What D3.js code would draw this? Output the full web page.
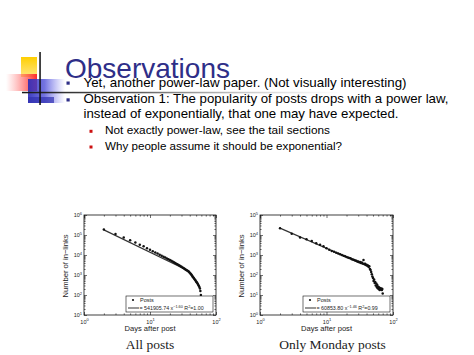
<!DOCTYPE html>
<html><head><meta charset="utf-8">
<script src="https://cdn.jsdelivr.net/npm/d3@7"></script>
<style>body{margin:0;background:#fff;}svg{display:block}</style>
</head><body>
<script>
// ---------- data ----------
const titleText = "Observations";
const bulletTexts = [
  "Yet, another power-law paper. (Not visually interesting)",
  "Observation 1: The popularity of posts drops with a power law,",
  "instead of exponentially, that one may have expected."
];
const subBulletTexts = [
  "Not exactly power-law, see the tail sections",
  "Why people assume it should be exponential?"
];
const xTickExps = [0, 1, 2];
const leftYTickExps = [1, 2, 3, 4, 5, 6];
const rightYTickExps = [0, 1, 2, 3, 4, 5];

const leftDays = [2,3,4,5,6,7,8,9,10,11,12,13,14,15,16,17,18,19,20,21,22,23,24,25,26,27,28,29,30,31,32,33,34,35,36,37,38,39,40,41,42,43,44,45,46,47,48,49,50,51,52,53,54,55,56,57,58,59];
const leftInlinks = [190000,112000,75000,55000,42000,33000,27000,22000,18500,15500,13500,11800,10300,9200,8200,7400,6700,6100,5600,5100,4700,4350,4000,3700,3450,3200,2950,2750,2550,2400,2250,2100,1950,1850,1750,1650,1520,1400,1300,1200,1080,960,860,780,700,640,580,530,480,440,400,350,320,280,250,210,160,100];
const leftFitDays = [2, 40];
const leftFitInlinks = [180000, 1500];

const rightDays = [2,3,4,5,6,7,8,9,10,11,12,13,14,15,16,17,18,19,20,21,22,23,24,25,26,27,28,29,30,31,32,33,34,35,36,37,38,39,40,41,42,43,44,45,46,47,48,49,50,51,52,53,54,55,56,57,58,59,60,61,62,63,64,65,66,67,68,69,70];
const rightInlinks = [21500,11500,7500,6200,5000,3900,3300,2700,2200,1850,1600,1450,1300,1200,1080,1000,920,860,800,760,700,680,620,600,560,530,520,470,480,430,450,400,420,380,560,350,360,320,330,290,300,250,270,200,180,140,110,85,70,50,60,40,45,30,38,25,32,22,26,20,24,18,22,20,19,21,18,20,12];
const rightFitDays = [2, 40];
const rightFitInlinks = [22000, 290];

const seriesName = "Posts";
const leftFitLabel = ["= 541905.74 x", "\u22121.60", " R", "2", "=1.00"];
const rightFitLabel = ["= 60853.80 x", "\u22121.46", " R", "2", "=0.99"];
const yAxisTitle = "Number of in\u2212links";
const xAxisTitle = "Days after post";
const captions = ["All posts", "Only Monday posts"];

// ---------- drawing ----------
const W = 474, H = 355;
const svg = d3.select("body").append("svg").attr("width", W).attr("height", H);
const defs = svg.append("defs");
function grad(id, stops, x2, y2) {
  const g = defs.append("linearGradient").attr("id", id)
    .attr("x1", "0%").attr("y1", "0%").attr("x2", x2).attr("y2", y2);
  stops.forEach(s => g.append("stop").attr("offset", s[0]).attr("stop-color", s[1]).attr("stop-opacity", s[2]));
}
grad("gY", [["0%", "#ffcf00", 1], ["100%", "#ffe066", 0.85]], "0%", "100%");
grad("gR", [["0%", "#ff7070", 0], ["100%", "#ff2a2a", 1]], "100%", "0%");
grad("gB", [["0%", "#2828b8", 1], ["45%", "#4a4ad8", 0.85], ["100%", "#7070f0", 0]], "100%", "0%");
grad("gL", [["0%", "#1a1a1a", 1], ["35%", "#444", 0.9], ["100%", "#aaa", 0]], "100%", "0%");

svg.append("rect").attr("x", 21).attr("y", 57).attr("width", 16).attr("height", 20).attr("fill", "url(#gY)");
svg.append("rect").attr("x", 6).attr("y", 74).attr("width", 31).attr("height", 17).attr("fill", "url(#gR)");
svg.append("rect").attr("x", 28).attr("y", 79).attr("width", 37).attr("height", 24).attr("fill", "url(#gB)").attr("opacity", 0.9);
svg.append("rect").attr("x", 28).attr("y", 97).attr("width", 26).attr("height", 6).attr("fill", "#3030b0").attr("opacity", 0.7);
svg.append("rect").attr("x", 22).attr("y", 91.8).attr("width", 320).attr("height", 1.5).attr("fill", "url(#gL)");
svg.append("rect").attr("x", 39.3).attr("y", 52).attr("width", 1.5).attr("height", 53).attr("fill", "#111");

// title
svg.append("text").attr("x", 65).attr("y", 77.5)
  .attr("font-family", "Liberation Sans, Arial, sans-serif").attr("font-size", 28.5)
  .attr("fill", "#2e2e88").attr("textLength", 165).attr("lengthAdjust", "spacingAndGlyphs")
  .text(titleText);

// bullets
const bY = [86.5, 103.3, 118.3];
const bW = [323, 365, 315];
bulletTexts.forEach((t, i) => {
  svg.append("text").attr("x", 83.5).attr("y", bY[i])
    .attr("font-family", "Liberation Sans, Arial, sans-serif").attr("font-size", 13.5)
    .attr("fill", "#000").attr("textLength", bW[i]).attr("lengthAdjust", "spacingAndGlyphs").text(t);
});
[0, 1].forEach(i => svg.append("rect").attr("x", 66.5).attr("y", bY[i] - 5).attr("width", 3.2).attr("height", 3.2).attr("fill", "#2e2e88"));
const sY = [134.3, 150];
const sW = [225, 237];
subBulletTexts.forEach((t, i) => {
  svg.append("text").attr("x", 105).attr("y", sY[i])
    .attr("font-family", "Liberation Sans, Arial, sans-serif").attr("font-size", 11.5)
    .attr("fill", "#000").attr("textLength", sW[i]).attr("lengthAdjust", "spacingAndGlyphs").text(t);
  svg.append("rect").attr("x", 89.5).attr("y", sY[i] - 4.5).attr("width", 3).attr("height", 3).attr("fill", "#cc1111");
});

function minorTicks(dom) {
  const out = [];
  const a = Math.round(Math.log10(dom[0])), b = Math.round(Math.log10(dom[1]));
  for (let e = a; e < b; e++) for (let m = 2; m < 10; m++) out.push(m * Math.pow(10, e));
  return out;
}
function supLabel(sel, d, anchor) {
  const t = d3.select(sel);
  t.text(null).attr("text-anchor", anchor).attr("fill", "#222")
    .attr("font-family", "Liberation Sans, Arial, sans-serif").attr("font-size", 5.5);
  t.append("tspan").text("10");
  t.append("tspan").attr("dy", -2.5).attr("font-size", 4).text(Math.round(Math.log10(d)));
}

function panel(cfg) {
  const { left, right, top, bottom, yExps, days, vals, fitDays, fitVals, fitLabel, caption, capX } = cfg;
  const xDom = [Math.pow(10, xTickExps[0]), Math.pow(10, xTickExps[xTickExps.length - 1])];
  const yDom = [Math.pow(10, yExps[0]), Math.pow(10, yExps[yExps.length - 1])];
  const x = d3.scaleLog().domain(xDom).range([left, right]);
  const y = d3.scaleLog().domain(yDom).range([bottom, top]);
  const g = svg.append("g");
  const xMaj = xTickExps.map(e => Math.pow(10, e));
  const yMaj = yExps.map(e => Math.pow(10, e));
  const mk = (gen, sc, vals, size, tx, ty) => g.append("g").attr("transform", `translate(${tx},${ty})`)
    .call(gen(sc).tickValues(vals).tickSize(size).tickSizeOuter(0).tickFormat(() => ""))
    .call(s => { s.select(".domain").remove(); s.selectAll("line").attr("stroke", "#111").attr("stroke-width", 0.6); });
  // minor
  mk(d3.axisBottom, x, minorTicks(xDom), -1.6, 0, bottom);
  mk(d3.axisTop, x, minorTicks(xDom), -1.6, 0, top);
  mk(d3.axisLeft, y, minorTicks(yDom), -1.6, left, 0);
  mk(d3.axisRight, y, minorTicks(yDom), -1.6, right, 0);
  // major (unlabeled side)
  mk(d3.axisTop, x, xMaj, -3, 0, top);
  mk(d3.axisRight, y, yMaj, -3, right, 0);
  // labeled major
  g.append("g").attr("transform", `translate(0,${bottom})`)
    .call(d3.axisBottom(x).tickValues(xMaj).tickSize(-3).tickSizeOuter(0).tickPadding(5).tickFormat(d => String(d)))
    .call(s => { s.select(".domain").remove(); s.selectAll("line").attr("stroke", "#111").attr("stroke-width", 0.6);
      s.selectAll("text").each(function (d) { supLabel(this, d, "middle"); }); });
  g.append("g").attr("transform", `translate(${left},0)`)
    .call(d3.axisLeft(y).tickValues(yMaj).tickSize(-3).tickSizeOuter(0).tickPadding(2).tickFormat(d => String(d)))
    .call(s => { s.select(".domain").remove(); s.selectAll("line").attr("stroke", "#111").attr("stroke-width", 0.6);
      s.selectAll("text").each(function (d) { supLabel(this, d, "end"); }); });
  // frame
  g.append("rect").attr("x", left).attr("y", top).attr("width", right - left).attr("height", bottom - top)
    .attr("fill", "none").attr("stroke", "#111").attr("stroke-width", 0.8);
  // fit line
  const fit = fitDays.map((d, i) => [d, fitVals[i]]);
  g.append("path").attr("d", d3.line().x(d => x(d[0])).y(d => y(d[1]))(fit))
    .attr("fill", "none").attr("stroke", "#333").attr("stroke-width", 1.2);
  // points
  const pts = days.map((d, i) => [d, vals[i]]);
  g.selectAll("circle.pt").data(pts).join("circle").attr("class", "pt")
    .attr("cx", d => x(d[0])).attr("cy", d => y(d[1])).attr("r", 1.25).attr("fill", "#111");
  // legend
  const lw = 87, lh = 16, lx = right - 3 - lw, ly = bottom - 3 - lh;
  g.append("rect").attr("x", lx).attr("y", ly).attr("width", lw).attr("height", lh)
    .attr("fill", "#fff").attr("stroke", "#111").attr("stroke-width", 0.6);
  g.append("circle").attr("cx", lx + 7).attr("cy", ly + 4).attr("r", 1.1).attr("fill", "#111");
  g.append("text").attr("x", lx + 14).attr("y", ly + 6).attr("font-family", "Liberation Sans, Arial, sans-serif")
    .attr("font-size", 5.5).attr("fill", "#222").text(seriesName);
  g.append("line").attr("x1", lx + 2).attr("x2", lx + 13).attr("y1", ly + 12).attr("y2", ly + 12)
    .attr("stroke", "#444").attr("stroke-width", 1.1);
  const ft = g.append("text").attr("x", lx + 13.5).attr("y", ly + 14).attr("font-family", "Liberation Sans, Arial, sans-serif")
    .attr("font-size", 5.3).attr("fill", "#222");
  ft.append("tspan").text(fitLabel[0]);
  ft.append("tspan").attr("dy", -2.3).attr("font-size", 3.8).text(fitLabel[1]);
  ft.append("tspan").attr("dy", 2.3).text(fitLabel[2]);
  ft.append("tspan").attr("dy", -2.3).attr("font-size", 3.8).text(fitLabel[3]);
  ft.append("tspan").attr("dy", 2.3).text(fitLabel[4]);
  // axis titles
  g.append("text").attr("transform", `translate(${left - 16},${(top + bottom) / 2 + 1}) rotate(-90)`)
    .attr("text-anchor", "middle").attr("font-family", "Liberation Sans, Arial, sans-serif")
    .attr("font-size", 7.6).attr("fill", "#222").text(yAxisTitle);
  g.append("text").attr("x", (left + right) / 2 + 0).attr("y", bottom + 15.5)
    .attr("text-anchor", "middle").attr("font-family", "Liberation Sans, Arial, sans-serif")
    .attr("font-size", 7.6).attr("fill", "#222").text(xAxisTitle);
  // caption
  g.append("text").attr("x", capX).attr("y", 348.5).attr("text-anchor", "middle")
    .attr("font-family", "Liberation Serif, DejaVu Serif, serif").attr("font-size", 13.5)
    .attr("fill", "#222").text(caption);
}

panel({ left: 84, right: 216, top: 215, bottom: 315, yExps: leftYTickExps,
  days: leftDays, vals: leftInlinks, fitDays: leftFitDays, fitVals: leftFitInlinks,
  fitLabel: leftFitLabel, caption: captions[0], capX: 150 });
panel({ left: 260, right: 393, top: 215, bottom: 315, yExps: rightYTickExps,
  days: rightDays, vals: rightInlinks, fitDays: rightFitDays, fitVals: rightFitInlinks,
  fitLabel: rightFitLabel, caption: captions[1], capX: 332.5 });
</script>
</body></html>
